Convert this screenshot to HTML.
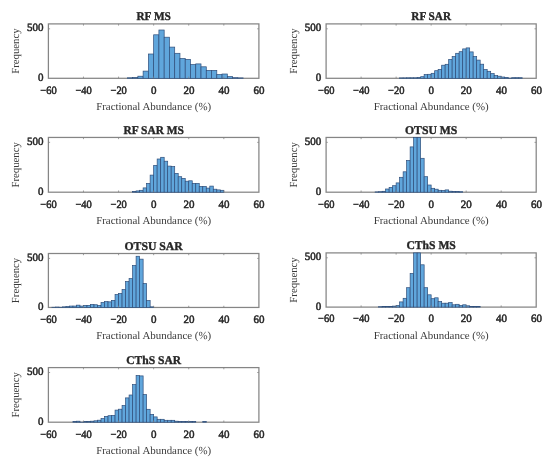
<!DOCTYPE html>
<html><head><meta charset="utf-8"><title>Histograms</title>
<style>
html,body{margin:0;padding:0;background:#fff}
svg{display:block}
text{text-rendering:geometricPrecision;font-family:"Liberation Serif",serif;fill:#262626;stroke:#262626;stroke-width:0.35px}
.t{font-size:11.8px;font-weight:bold;text-anchor:middle}
.k{font-size:11.2px;text-anchor:middle;stroke-width:0.5px}
.y{font-size:11.2px;text-anchor:end;stroke-width:0.5px}
.x{font-size:10.8px;text-anchor:middle;stroke:none;fill:#3a3a3a}
</style></head><body>
<svg width="550" height="464" viewBox="0 0 550 464">
<rect width="550" height="464" fill="#fff"/>
<rect x="48.40" y="23.90" width="210.50" height="54.40" fill="none" stroke="#858585" stroke-width="1.25"/>
<g fill="#60a6dc" stroke="#2e4d7a" stroke-width="0.7"><rect x="127.34" y="77.80" width="5.26" height="0.50"/><rect x="132.60" y="77.50" width="5.26" height="0.80"/><rect x="137.86" y="76.20" width="5.26" height="2.10"/><rect x="143.12" y="71.10" width="5.26" height="7.20"/><rect x="148.39" y="54.00" width="5.26" height="24.30"/><rect x="153.65" y="34.80" width="5.26" height="43.50"/><rect x="158.91" y="30.00" width="5.26" height="48.30"/><rect x="164.18" y="37.20" width="5.26" height="41.10"/><rect x="169.44" y="47.10" width="5.26" height="31.20"/><rect x="174.70" y="53.30" width="5.26" height="25.00"/><rect x="179.96" y="58.50" width="5.26" height="19.80"/><rect x="185.22" y="59.40" width="5.26" height="18.90"/><rect x="190.49" y="64.60" width="5.26" height="13.70"/><rect x="195.75" y="63.90" width="5.26" height="14.40"/><rect x="201.01" y="66.80" width="5.26" height="11.50"/><rect x="206.28" y="70.40" width="5.26" height="7.90"/><rect x="211.54" y="70.40" width="5.26" height="7.90"/><rect x="216.80" y="74.50" width="5.26" height="3.80"/><rect x="222.06" y="74.00" width="5.26" height="4.30"/><rect x="227.33" y="76.60" width="5.26" height="1.70"/><rect x="232.59" y="77.70" width="5.26" height="0.60"/><rect x="237.85" y="77.90" width="5.26" height="0.40"/></g>
<path d="M83.48 78.30v-1.7M83.48 23.90v1.7M118.57 78.30v-1.7M118.57 23.90v1.7M153.65 78.30v-1.7M153.65 23.90v1.7M188.73 78.30v-1.7M188.73 23.90v1.7M223.82 78.30v-1.7M223.82 23.90v1.7M48.40 28.80h1.7M258.90 28.80h-1.7" stroke="#858585" stroke-width="0.8" fill="none"/>
<text x="153.65" y="20.00" class="t" textLength="34.4" lengthAdjust="spacingAndGlyphs">RF MS</text>
<text x="48.50" y="93.65" class="k" textLength="16.4" lengthAdjust="spacingAndGlyphs">−60</text>
<text x="83.58" y="93.65" class="k" textLength="16.4" lengthAdjust="spacingAndGlyphs">−40</text>
<text x="118.67" y="93.65" class="k" textLength="16.4" lengthAdjust="spacingAndGlyphs">−20</text>
<text x="153.85" y="93.65" class="k" textLength="5.5" lengthAdjust="spacingAndGlyphs">0</text>
<text x="188.93" y="93.65" class="k" textLength="11.0" lengthAdjust="spacingAndGlyphs">20</text>
<text x="224.02" y="93.65" class="k" textLength="11.0" lengthAdjust="spacingAndGlyphs">40</text>
<text x="259.10" y="93.65" class="k" textLength="11.0" lengthAdjust="spacingAndGlyphs">60</text>
<text x="43.50" y="31.05" class="y" textLength="16.5" lengthAdjust="spacingAndGlyphs">500</text>
<text x="43.50" y="81.00" class="y" textLength="5.5" lengthAdjust="spacingAndGlyphs">0</text>
<text x="153.65" y="109.80" class="x" textLength="115" lengthAdjust="spacingAndGlyphs">Fractional Abundance (%)</text>
<text transform="translate(19.20 51.10) rotate(-90)" class="x" textLength="45.4" lengthAdjust="spacingAndGlyphs">Frequency</text>
<rect x="326.10" y="23.90" width="210.10" height="54.40" fill="none" stroke="#858585" stroke-width="1.25"/>
<g fill="#60a6dc" stroke="#2e4d7a" stroke-width="0.7"><rect x="399.63" y="77.90" width="3.50" height="0.40"/><rect x="403.14" y="77.90" width="3.50" height="0.40"/><rect x="406.64" y="77.80" width="3.50" height="0.50"/><rect x="410.14" y="77.80" width="3.50" height="0.50"/><rect x="413.64" y="77.80" width="3.50" height="0.50"/><rect x="417.14" y="77.50" width="3.50" height="0.80"/><rect x="420.65" y="76.70" width="3.50" height="1.60"/><rect x="424.15" y="74.60" width="3.50" height="3.70"/><rect x="427.65" y="74.30" width="3.50" height="4.00"/><rect x="431.15" y="73.30" width="3.50" height="5.00"/><rect x="434.65" y="70.70" width="3.50" height="7.60"/><rect x="438.15" y="69.40" width="3.50" height="8.90"/><rect x="441.66" y="65.20" width="3.50" height="13.10"/><rect x="445.16" y="64.30" width="3.50" height="14.00"/><rect x="448.66" y="59.40" width="3.50" height="18.90"/><rect x="452.16" y="56.60" width="3.50" height="21.70"/><rect x="455.66" y="53.30" width="3.50" height="25.00"/><rect x="459.16" y="51.70" width="3.50" height="26.60"/><rect x="462.67" y="48.90" width="3.50" height="29.40"/><rect x="466.17" y="47.90" width="3.50" height="30.40"/><rect x="469.67" y="51.90" width="3.50" height="26.40"/><rect x="473.17" y="56.60" width="3.50" height="21.70"/><rect x="476.67" y="60.10" width="3.50" height="18.20"/><rect x="480.17" y="64.20" width="3.50" height="14.10"/><rect x="483.68" y="69.50" width="3.50" height="8.80"/><rect x="487.18" y="71.30" width="3.50" height="7.00"/><rect x="490.68" y="73.60" width="3.50" height="4.70"/><rect x="494.18" y="75.60" width="3.50" height="2.70"/><rect x="497.68" y="76.20" width="3.50" height="2.10"/><rect x="501.18" y="77.00" width="3.50" height="1.30"/><rect x="504.69" y="77.40" width="3.50" height="0.90"/><rect x="508.19" y="78.20" width="3.50" height="0.10"/><rect x="511.69" y="77.70" width="3.50" height="0.60"/><rect x="515.19" y="77.70" width="3.50" height="0.60"/><rect x="518.69" y="77.70" width="3.50" height="0.60"/></g>
<path d="M361.12 78.30v-1.7M361.12 23.90v1.7M396.13 78.30v-1.7M396.13 23.90v1.7M431.15 78.30v-1.7M431.15 23.90v1.7M466.17 78.30v-1.7M466.17 23.90v1.7M501.18 78.30v-1.7M501.18 23.90v1.7M326.10 28.80h1.7M536.20 28.80h-1.7" stroke="#858585" stroke-width="0.8" fill="none"/>
<text x="431.15" y="20.00" class="t" textLength="39.7" lengthAdjust="spacingAndGlyphs">RF SAR</text>
<text x="326.20" y="93.65" class="k" textLength="16.4" lengthAdjust="spacingAndGlyphs">−60</text>
<text x="361.22" y="93.65" class="k" textLength="16.4" lengthAdjust="spacingAndGlyphs">−40</text>
<text x="396.23" y="93.65" class="k" textLength="16.4" lengthAdjust="spacingAndGlyphs">−20</text>
<text x="431.35" y="93.65" class="k" textLength="5.5" lengthAdjust="spacingAndGlyphs">0</text>
<text x="466.37" y="93.65" class="k" textLength="11.0" lengthAdjust="spacingAndGlyphs">20</text>
<text x="501.38" y="93.65" class="k" textLength="11.0" lengthAdjust="spacingAndGlyphs">40</text>
<text x="536.40" y="93.65" class="k" textLength="11.0" lengthAdjust="spacingAndGlyphs">60</text>
<text x="321.20" y="31.05" class="y" textLength="16.5" lengthAdjust="spacingAndGlyphs">500</text>
<text x="321.20" y="81.00" class="y" textLength="5.5" lengthAdjust="spacingAndGlyphs">0</text>
<text x="431.15" y="109.80" class="x" textLength="115" lengthAdjust="spacingAndGlyphs">Fractional Abundance (%)</text>
<text transform="translate(296.90 51.10) rotate(-90)" class="x" textLength="45.4" lengthAdjust="spacingAndGlyphs">Frequency</text>
<rect x="48.40" y="137.45" width="210.50" height="54.75" fill="none" stroke="#858585" stroke-width="1.25"/>
<g fill="#60a6dc" stroke="#2e4d7a" stroke-width="0.7"><rect x="132.60" y="191.60" width="3.51" height="0.60"/><rect x="136.11" y="190.90" width="3.51" height="1.30"/><rect x="139.62" y="190.30" width="3.51" height="1.90"/><rect x="143.12" y="187.90" width="3.51" height="4.30"/><rect x="146.63" y="183.40" width="3.51" height="8.80"/><rect x="150.14" y="175.10" width="3.51" height="17.10"/><rect x="153.65" y="165.40" width="3.51" height="26.80"/><rect x="157.16" y="159.00" width="3.51" height="33.20"/><rect x="160.67" y="157.30" width="3.51" height="34.90"/><rect x="164.18" y="161.20" width="3.51" height="31.00"/><rect x="167.68" y="166.10" width="3.51" height="26.10"/><rect x="171.19" y="166.60" width="3.51" height="25.60"/><rect x="174.70" y="173.40" width="3.51" height="18.80"/><rect x="178.21" y="176.70" width="3.51" height="15.50"/><rect x="181.72" y="178.40" width="3.51" height="13.80"/><rect x="185.22" y="181.20" width="3.51" height="11.00"/><rect x="188.73" y="180.80" width="3.51" height="11.40"/><rect x="192.24" y="183.40" width="3.51" height="8.80"/><rect x="195.75" y="183.40" width="3.51" height="8.80"/><rect x="199.26" y="186.40" width="3.51" height="5.80"/><rect x="202.77" y="186.40" width="3.51" height="5.80"/><rect x="206.28" y="188.10" width="3.51" height="4.10"/><rect x="209.78" y="186.10" width="3.51" height="6.10"/><rect x="213.29" y="189.20" width="3.51" height="3.00"/><rect x="216.80" y="189.90" width="3.51" height="2.30"/><rect x="220.31" y="190.30" width="3.51" height="1.90"/></g>
<path d="M83.48 192.20v-1.7M83.48 137.45v1.7M118.57 192.20v-1.7M118.57 137.45v1.7M153.65 192.20v-1.7M153.65 137.45v1.7M188.73 192.20v-1.7M188.73 137.45v1.7M223.82 192.20v-1.7M223.82 137.45v1.7M48.40 142.35h1.7M258.90 142.35h-1.7" stroke="#858585" stroke-width="0.8" fill="none"/>
<text x="153.65" y="133.55" class="t" textLength="60.5" lengthAdjust="spacingAndGlyphs">RF SAR MS</text>
<text x="48.50" y="207.55" class="k" textLength="16.4" lengthAdjust="spacingAndGlyphs">−60</text>
<text x="83.58" y="207.55" class="k" textLength="16.4" lengthAdjust="spacingAndGlyphs">−40</text>
<text x="118.67" y="207.55" class="k" textLength="16.4" lengthAdjust="spacingAndGlyphs">−20</text>
<text x="153.85" y="207.55" class="k" textLength="5.5" lengthAdjust="spacingAndGlyphs">0</text>
<text x="188.93" y="207.55" class="k" textLength="11.0" lengthAdjust="spacingAndGlyphs">20</text>
<text x="224.02" y="207.55" class="k" textLength="11.0" lengthAdjust="spacingAndGlyphs">40</text>
<text x="259.10" y="207.55" class="k" textLength="11.0" lengthAdjust="spacingAndGlyphs">60</text>
<text x="43.50" y="144.60" class="y" textLength="16.5" lengthAdjust="spacingAndGlyphs">500</text>
<text x="43.50" y="194.90" class="y" textLength="5.5" lengthAdjust="spacingAndGlyphs">0</text>
<text x="153.65" y="223.70" class="x" textLength="115" lengthAdjust="spacingAndGlyphs">Fractional Abundance (%)</text>
<text transform="translate(19.20 164.82) rotate(-90)" class="x" textLength="45.4" lengthAdjust="spacingAndGlyphs">Frequency</text>
<rect x="326.10" y="137.45" width="210.10" height="54.75" fill="none" stroke="#858585" stroke-width="1.25"/>
<g fill="#60a6dc" stroke="#2e4d7a" stroke-width="0.7"><rect x="375.12" y="191.90" width="3.50" height="0.30"/><rect x="378.62" y="191.70" width="3.50" height="0.50"/><rect x="382.13" y="191.30" width="3.50" height="0.90"/><rect x="385.63" y="189.00" width="3.50" height="3.20"/><rect x="389.13" y="187.40" width="3.50" height="4.80"/><rect x="392.63" y="185.70" width="3.50" height="6.50"/><rect x="396.13" y="182.90" width="3.50" height="9.30"/><rect x="399.63" y="177.30" width="3.50" height="14.90"/><rect x="403.14" y="171.80" width="3.50" height="20.40"/><rect x="406.64" y="160.50" width="3.50" height="31.70"/><rect x="410.14" y="146.90" width="3.50" height="45.30"/><rect x="413.64" y="137.45" width="3.50" height="54.75"/><rect x="417.14" y="137.45" width="3.50" height="54.75"/><rect x="420.65" y="158.30" width="3.50" height="33.90"/><rect x="424.15" y="176.70" width="3.50" height="15.50"/><rect x="427.65" y="185.00" width="3.50" height="7.20"/><rect x="431.15" y="188.30" width="3.50" height="3.90"/><rect x="434.65" y="189.20" width="3.50" height="3.00"/><rect x="438.15" y="190.30" width="3.50" height="1.90"/><rect x="441.66" y="190.50" width="3.50" height="1.70"/><rect x="445.16" y="189.90" width="3.50" height="2.30"/><rect x="448.66" y="191.20" width="3.50" height="1.00"/><rect x="452.16" y="191.60" width="3.50" height="0.60"/><rect x="455.66" y="191.60" width="3.50" height="0.60"/><rect x="459.16" y="191.70" width="3.50" height="0.50"/></g>
<path d="M361.12 192.20v-1.7M361.12 137.45v1.7M396.13 192.20v-1.7M396.13 137.45v1.7M431.15 192.20v-1.7M431.15 137.45v1.7M466.17 192.20v-1.7M466.17 137.45v1.7M501.18 192.20v-1.7M501.18 137.45v1.7M326.10 142.35h1.7M536.20 142.35h-1.7" stroke="#858585" stroke-width="0.8" fill="none"/>
<text x="431.15" y="133.55" class="t" textLength="52.3" lengthAdjust="spacingAndGlyphs">OTSU MS</text>
<text x="326.20" y="207.55" class="k" textLength="16.4" lengthAdjust="spacingAndGlyphs">−60</text>
<text x="361.22" y="207.55" class="k" textLength="16.4" lengthAdjust="spacingAndGlyphs">−40</text>
<text x="396.23" y="207.55" class="k" textLength="16.4" lengthAdjust="spacingAndGlyphs">−20</text>
<text x="431.35" y="207.55" class="k" textLength="5.5" lengthAdjust="spacingAndGlyphs">0</text>
<text x="466.37" y="207.55" class="k" textLength="11.0" lengthAdjust="spacingAndGlyphs">20</text>
<text x="501.38" y="207.55" class="k" textLength="11.0" lengthAdjust="spacingAndGlyphs">40</text>
<text x="536.40" y="207.55" class="k" textLength="11.0" lengthAdjust="spacingAndGlyphs">60</text>
<text x="321.20" y="144.60" class="y" textLength="16.5" lengthAdjust="spacingAndGlyphs">500</text>
<text x="321.20" y="194.90" class="y" textLength="5.5" lengthAdjust="spacingAndGlyphs">0</text>
<text x="431.15" y="223.70" class="x" textLength="115" lengthAdjust="spacingAndGlyphs">Fractional Abundance (%)</text>
<text transform="translate(296.90 164.82) rotate(-90)" class="x" textLength="45.4" lengthAdjust="spacingAndGlyphs">Frequency</text>
<rect x="48.40" y="253.50" width="210.50" height="53.95" fill="none" stroke="#858585" stroke-width="1.25"/>
<g fill="#60a6dc" stroke="#2e4d7a" stroke-width="0.7"><rect x="51.91" y="307.25" width="3.51" height="0.20"/><rect x="55.42" y="307.05" width="3.51" height="0.40"/><rect x="58.92" y="307.25" width="3.51" height="0.20"/><rect x="62.43" y="306.85" width="3.51" height="0.60"/><rect x="65.94" y="306.45" width="3.51" height="1.00"/><rect x="69.45" y="306.05" width="3.51" height="1.40"/><rect x="72.96" y="306.05" width="3.51" height="1.40"/><rect x="76.47" y="305.15" width="3.51" height="2.30"/><rect x="79.97" y="306.05" width="3.51" height="1.40"/><rect x="83.48" y="305.35" width="3.51" height="2.10"/><rect x="86.99" y="305.35" width="3.51" height="2.10"/><rect x="90.50" y="304.45" width="3.51" height="3.00"/><rect x="94.01" y="304.75" width="3.51" height="2.70"/><rect x="97.52" y="305.35" width="3.51" height="2.10"/><rect x="101.03" y="302.55" width="3.51" height="4.90"/><rect x="104.53" y="301.65" width="3.51" height="5.80"/><rect x="108.04" y="301.85" width="3.51" height="5.60"/><rect x="111.55" y="300.35" width="3.51" height="7.10"/><rect x="115.06" y="294.55" width="3.51" height="12.90"/><rect x="118.57" y="293.45" width="3.51" height="14.00"/><rect x="122.07" y="289.55" width="3.51" height="17.90"/><rect x="125.58" y="281.55" width="3.51" height="25.90"/><rect x="129.09" y="278.65" width="3.51" height="28.80"/><rect x="132.60" y="265.45" width="3.51" height="42.00"/><rect x="136.11" y="256.25" width="3.51" height="51.20"/><rect x="139.62" y="259.15" width="3.51" height="48.30"/><rect x="143.12" y="283.55" width="3.51" height="23.90"/><rect x="146.63" y="300.55" width="3.51" height="6.90"/><rect x="150.14" y="306.85" width="3.51" height="0.60"/></g>
<path d="M83.48 307.45v-1.7M83.48 253.50v1.7M118.57 307.45v-1.7M118.57 253.50v1.7M153.65 307.45v-1.7M153.65 253.50v1.7M188.73 307.45v-1.7M188.73 253.50v1.7M223.82 307.45v-1.7M223.82 253.50v1.7M48.40 258.40h1.7M258.90 258.40h-1.7" stroke="#858585" stroke-width="0.8" fill="none"/>
<text x="153.65" y="249.60" class="t" textLength="58.4" lengthAdjust="spacingAndGlyphs">OTSU SAR</text>
<text x="48.50" y="322.80" class="k" textLength="16.4" lengthAdjust="spacingAndGlyphs">−60</text>
<text x="83.58" y="322.80" class="k" textLength="16.4" lengthAdjust="spacingAndGlyphs">−40</text>
<text x="118.67" y="322.80" class="k" textLength="16.4" lengthAdjust="spacingAndGlyphs">−20</text>
<text x="153.85" y="322.80" class="k" textLength="5.5" lengthAdjust="spacingAndGlyphs">0</text>
<text x="188.93" y="322.80" class="k" textLength="11.0" lengthAdjust="spacingAndGlyphs">20</text>
<text x="224.02" y="322.80" class="k" textLength="11.0" lengthAdjust="spacingAndGlyphs">40</text>
<text x="259.10" y="322.80" class="k" textLength="11.0" lengthAdjust="spacingAndGlyphs">60</text>
<text x="43.50" y="260.65" class="y" textLength="16.5" lengthAdjust="spacingAndGlyphs">500</text>
<text x="43.50" y="310.15" class="y" textLength="5.5" lengthAdjust="spacingAndGlyphs">0</text>
<text x="153.65" y="338.95" class="x" textLength="115" lengthAdjust="spacingAndGlyphs">Fractional Abundance (%)</text>
<text transform="translate(19.20 280.48) rotate(-90)" class="x" textLength="45.4" lengthAdjust="spacingAndGlyphs">Frequency</text>
<rect x="326.10" y="252.90" width="210.10" height="54.20" fill="none" stroke="#858585" stroke-width="1.25"/>
<g fill="#60a6dc" stroke="#2e4d7a" stroke-width="0.7"><rect x="378.62" y="306.70" width="3.50" height="0.40"/><rect x="382.13" y="306.60" width="3.50" height="0.50"/><rect x="385.63" y="306.60" width="3.50" height="0.50"/><rect x="389.13" y="306.40" width="3.50" height="0.70"/><rect x="392.63" y="306.10" width="3.50" height="1.00"/><rect x="396.13" y="305.50" width="3.50" height="1.60"/><rect x="399.63" y="301.90" width="3.50" height="5.20"/><rect x="403.14" y="298.30" width="3.50" height="8.80"/><rect x="406.64" y="287.70" width="3.50" height="19.40"/><rect x="410.14" y="273.50" width="3.50" height="33.60"/><rect x="413.64" y="252.90" width="3.50" height="54.20"/><rect x="417.14" y="252.90" width="3.50" height="54.20"/><rect x="420.65" y="264.80" width="3.50" height="42.30"/><rect x="424.15" y="287.70" width="3.50" height="19.40"/><rect x="427.65" y="294.80" width="3.50" height="12.30"/><rect x="431.15" y="298.70" width="3.50" height="8.40"/><rect x="434.65" y="297.80" width="3.50" height="9.30"/><rect x="438.15" y="301.60" width="3.50" height="5.50"/><rect x="441.66" y="303.20" width="3.50" height="3.90"/><rect x="445.16" y="303.20" width="3.50" height="3.90"/><rect x="448.66" y="302.60" width="3.50" height="4.50"/><rect x="452.16" y="304.80" width="3.50" height="2.30"/><rect x="455.66" y="304.30" width="3.50" height="2.80"/><rect x="459.16" y="305.50" width="3.50" height="1.60"/><rect x="462.67" y="304.80" width="3.50" height="2.30"/><rect x="466.17" y="305.80" width="3.50" height="1.30"/><rect x="469.67" y="306.50" width="3.50" height="0.60"/><rect x="473.17" y="306.50" width="3.50" height="0.60"/><rect x="476.67" y="306.50" width="3.50" height="0.60"/></g>
<path d="M361.12 307.10v-1.7M361.12 252.90v1.7M396.13 307.10v-1.7M396.13 252.90v1.7M431.15 307.10v-1.7M431.15 252.90v1.7M466.17 307.10v-1.7M466.17 252.90v1.7M501.18 307.10v-1.7M501.18 252.90v1.7M326.10 257.80h1.7M536.20 257.80h-1.7" stroke="#858585" stroke-width="0.8" fill="none"/>
<text x="431.15" y="249.00" class="t" textLength="49.3" lengthAdjust="spacingAndGlyphs">CThS MS</text>
<text x="326.20" y="322.45" class="k" textLength="16.4" lengthAdjust="spacingAndGlyphs">−60</text>
<text x="361.22" y="322.45" class="k" textLength="16.4" lengthAdjust="spacingAndGlyphs">−40</text>
<text x="396.23" y="322.45" class="k" textLength="16.4" lengthAdjust="spacingAndGlyphs">−20</text>
<text x="431.35" y="322.45" class="k" textLength="5.5" lengthAdjust="spacingAndGlyphs">0</text>
<text x="466.37" y="322.45" class="k" textLength="11.0" lengthAdjust="spacingAndGlyphs">20</text>
<text x="501.38" y="322.45" class="k" textLength="11.0" lengthAdjust="spacingAndGlyphs">40</text>
<text x="536.40" y="322.45" class="k" textLength="11.0" lengthAdjust="spacingAndGlyphs">60</text>
<text x="321.20" y="260.05" class="y" textLength="16.5" lengthAdjust="spacingAndGlyphs">500</text>
<text x="321.20" y="309.80" class="y" textLength="5.5" lengthAdjust="spacingAndGlyphs">0</text>
<text x="431.15" y="338.60" class="x" textLength="115" lengthAdjust="spacingAndGlyphs">Fractional Abundance (%)</text>
<text transform="translate(296.90 280.00) rotate(-90)" class="x" textLength="45.4" lengthAdjust="spacingAndGlyphs">Frequency</text>
<rect x="48.40" y="367.60" width="210.50" height="54.60" fill="none" stroke="#858585" stroke-width="1.25"/>
<g fill="#60a6dc" stroke="#2e4d7a" stroke-width="0.7"><rect x="72.96" y="421.50" width="3.51" height="0.70"/><rect x="76.47" y="421.20" width="3.51" height="1.00"/><rect x="79.97" y="422.10" width="3.51" height="0.10"/><rect x="83.48" y="421.50" width="3.51" height="0.70"/><rect x="86.99" y="421.40" width="3.51" height="0.80"/><rect x="90.50" y="421.20" width="3.51" height="1.00"/><rect x="94.01" y="420.80" width="3.51" height="1.40"/><rect x="97.52" y="420.20" width="3.51" height="2.00"/><rect x="101.03" y="418.60" width="3.51" height="3.60"/><rect x="104.53" y="416.40" width="3.51" height="5.80"/><rect x="108.04" y="415.70" width="3.51" height="6.50"/><rect x="111.55" y="415.40" width="3.51" height="6.80"/><rect x="115.06" y="410.10" width="3.51" height="12.10"/><rect x="118.57" y="409.20" width="3.51" height="13.00"/><rect x="122.07" y="405.50" width="3.51" height="16.70"/><rect x="125.58" y="397.90" width="3.51" height="24.30"/><rect x="129.09" y="395.00" width="3.51" height="27.20"/><rect x="132.60" y="384.60" width="3.51" height="37.60"/><rect x="136.11" y="375.50" width="3.51" height="46.70"/><rect x="139.62" y="375.90" width="3.51" height="46.30"/><rect x="143.12" y="394.60" width="3.51" height="27.60"/><rect x="146.63" y="409.30" width="3.51" height="12.90"/><rect x="150.14" y="414.40" width="3.51" height="7.80"/><rect x="153.65" y="416.90" width="3.51" height="5.30"/><rect x="157.16" y="419.30" width="3.51" height="2.90"/><rect x="160.67" y="419.30" width="3.51" height="2.90"/><rect x="164.18" y="420.30" width="3.51" height="1.90"/><rect x="167.68" y="420.30" width="3.51" height="1.90"/><rect x="171.19" y="420.30" width="3.51" height="1.90"/><rect x="174.70" y="421.20" width="3.51" height="1.00"/><rect x="178.21" y="421.60" width="3.51" height="0.60"/><rect x="181.72" y="421.60" width="3.51" height="0.60"/><rect x="185.22" y="421.60" width="3.51" height="0.60"/><rect x="188.73" y="421.60" width="3.51" height="0.60"/><rect x="192.24" y="421.60" width="3.51" height="0.60"/><rect x="202.77" y="421.60" width="3.51" height="0.60"/></g>
<path d="M83.48 422.20v-1.7M83.48 367.60v1.7M118.57 422.20v-1.7M118.57 367.60v1.7M153.65 422.20v-1.7M153.65 367.60v1.7M188.73 422.20v-1.7M188.73 367.60v1.7M223.82 422.20v-1.7M223.82 367.60v1.7M48.40 372.50h1.7M258.90 372.50h-1.7" stroke="#858585" stroke-width="0.8" fill="none"/>
<text x="153.65" y="363.70" class="t" textLength="54.9" lengthAdjust="spacingAndGlyphs">CThS SAR</text>
<text x="48.50" y="437.55" class="k" textLength="16.4" lengthAdjust="spacingAndGlyphs">−60</text>
<text x="83.58" y="437.55" class="k" textLength="16.4" lengthAdjust="spacingAndGlyphs">−40</text>
<text x="118.67" y="437.55" class="k" textLength="16.4" lengthAdjust="spacingAndGlyphs">−20</text>
<text x="153.85" y="437.55" class="k" textLength="5.5" lengthAdjust="spacingAndGlyphs">0</text>
<text x="188.93" y="437.55" class="k" textLength="11.0" lengthAdjust="spacingAndGlyphs">20</text>
<text x="224.02" y="437.55" class="k" textLength="11.0" lengthAdjust="spacingAndGlyphs">40</text>
<text x="259.10" y="437.55" class="k" textLength="11.0" lengthAdjust="spacingAndGlyphs">60</text>
<text x="43.50" y="374.75" class="y" textLength="16.5" lengthAdjust="spacingAndGlyphs">500</text>
<text x="43.50" y="424.90" class="y" textLength="5.5" lengthAdjust="spacingAndGlyphs">0</text>
<text x="153.65" y="453.70" class="x" textLength="115" lengthAdjust="spacingAndGlyphs">Fractional Abundance (%)</text>
<text transform="translate(19.20 394.90) rotate(-90)" class="x" textLength="45.4" lengthAdjust="spacingAndGlyphs">Frequency</text>
</svg>
</body></html>
